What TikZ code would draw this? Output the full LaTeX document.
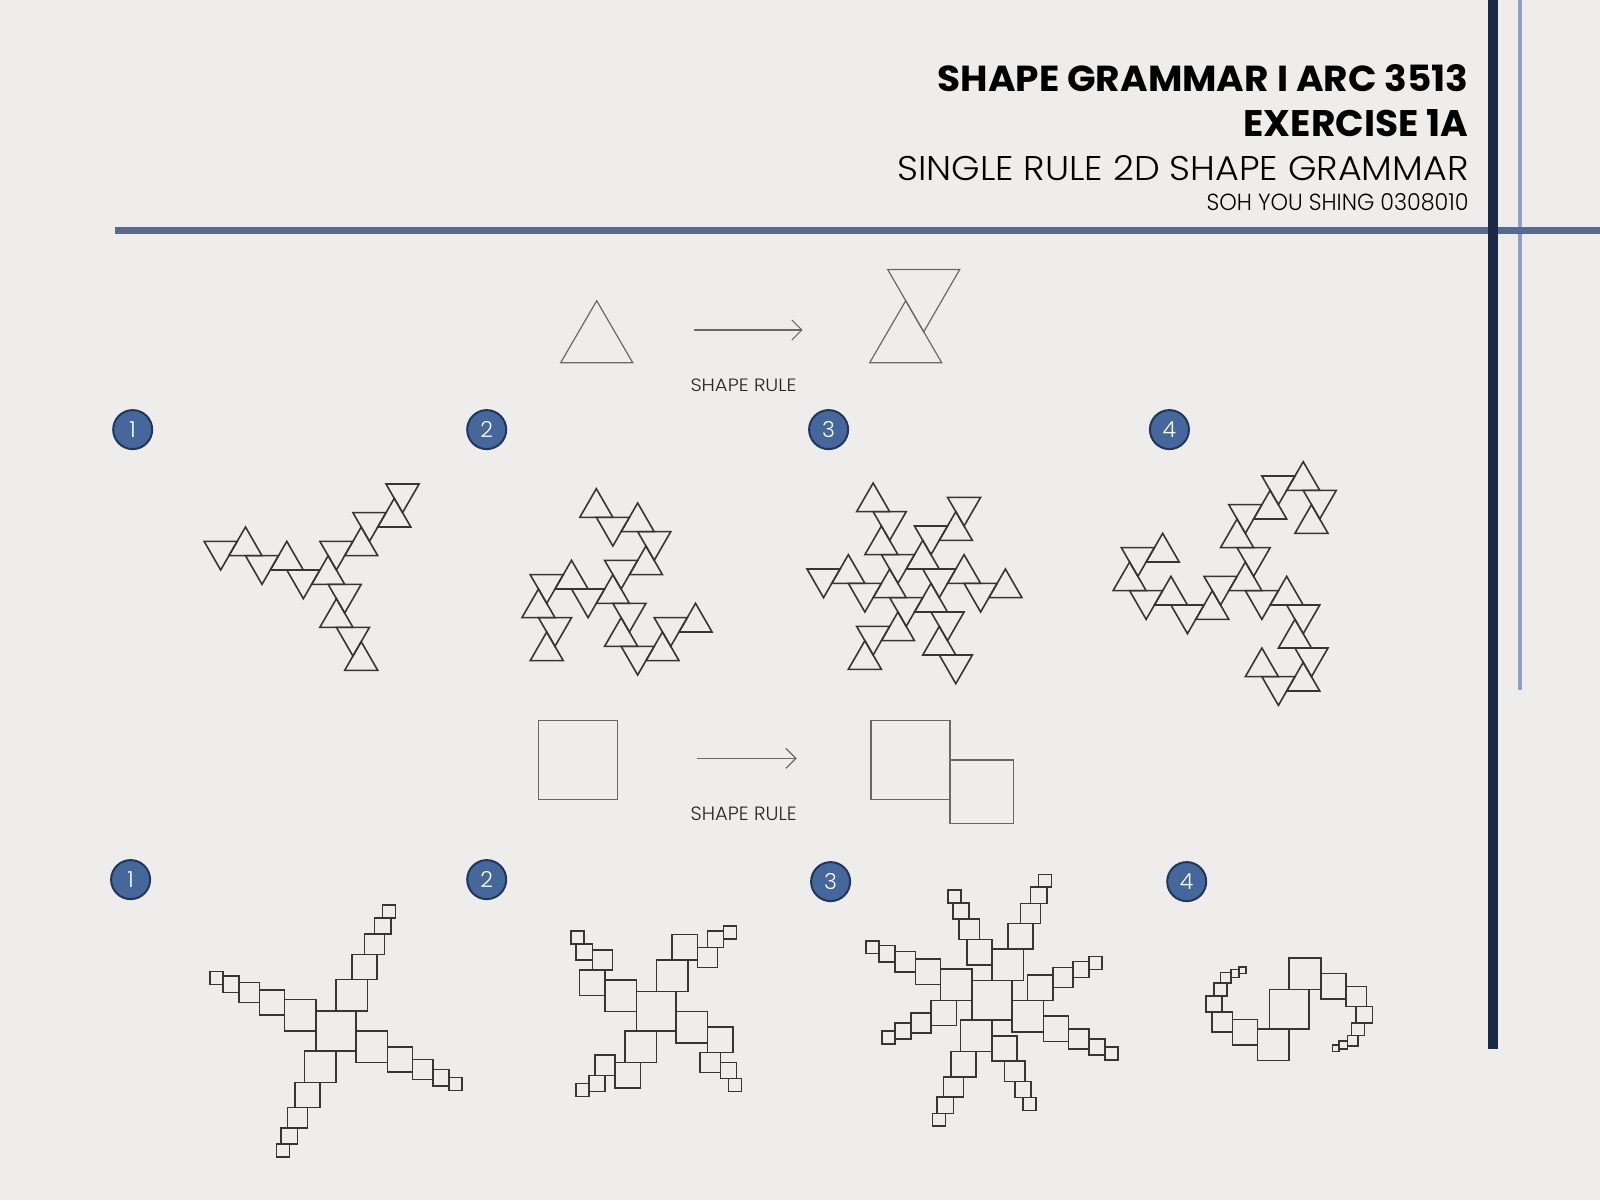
\documentclass[tikz,border=0pt]{standalone}
\usepackage{fontspec}
\setmainfont{Poppins}
\newfontfamily\poplight{Poppins Light}
\usetikzlibrary{arrows.meta}
\definecolor{bg}{HTML}{EEEDEB}
\definecolor{shapeline}{HTML}{3A3535}
\definecolor{ruleline}{HTML}{6E6764}
\definecolor{barblue}{HTML}{566B8F}
\definecolor{darknavy}{HTML}{1B2B47}
\definecolor{lightblue}{HTML}{8FA0C0}
\definecolor{badgefill}{HTML}{46679B}
\definecolor{badgering}{HTML}{22365A}
\tikzset{
  shp/.style={draw=shapeline, line width=0.8pt},
  ruleshp/.style={draw=ruleline, line width=0.6pt},
  rulearrow/.style={draw=ruleline, line width=0.6pt, -{Straight Barb[length=5pt,width=10pt]}},
  badge/.style={circle, fill=badgefill, draw=badgering, line width=1pt, minimum size=19.5pt, inner sep=0pt, text=white, font=\poplight\fontsize{11}{11}\selectfont},
  titletext/.style={anchor=base east, inner sep=0pt, text=black},
  rulelabel/.style={anchor=base, inner sep=0pt, text=black!85},
}
\newcommand{\upTris}[1]{\foreach \i/\j in {#1} {\draw[shp] (\i-2,\j) -- (\i+2,\j) -- (\i,\j-2) -- cycle;}}
\newcommand{\dnTris}[1]{\foreach \i/\j in {#1} {\draw[shp] (\i-2,\j) -- (\i+2,\j) -- (\i,\j+2) -- cycle;}}
\newcommand{\sqbox}[4]{\draw[shp] (#1,#3) rectangle (#2,#4);}
\newcommand{\armOne}{%
  \sqbox{0.5}{1.3}{0}{0.8}
  \sqbox{1.3}{1.94}{0.4}{1.04}
  \sqbox{1.94}{2.452}{0.72}{1.232}
  \sqbox{2.452}{2.8616}{0.976}{1.3856}
  \sqbox{2.8616}{3.18928}{1.1808}{1.50848}}
\newcommand{\armTwo}{%
  \sqbox{0.5}{1.3}{0}{0.8}
  \sqbox{1.3}{1.94}{0.4}{1.04}
  \sqbox{1.108}{1.62}{1.04}{1.552}
  \sqbox{1.62}{2.0296}{1.296}{1.7056}
  \sqbox{1.8248}{2.15248}{1.7056}{2.03328}}
\newcommand{\armExtra}{%
  \sqbox{0.9}{1.54}{-0.64}{0}
  \sqbox{1.54}{2.052}{-0.832}{-0.32}
  \sqbox{2.052}{2.4616}{-0.9856}{-0.576}
  \sqbox{2.4616}{2.78928}{-1.10848}{-0.7808}}
\newcommand{\armFour}{%
  \sqbox{0}{0.8}{-1.3}{-0.5}
  \sqbox{0.8}{1.44}{-0.9}{-0.26}
  \sqbox{1.44}{1.952}{-0.58}{-0.068}
  \sqbox{1.696}{2.1056}{-0.068}{0.3416}
  \sqbox{1.57312}{1.9008}{0.3416}{0.66928}
  \sqbox{1.47482}{1.73696}{0.66928}{0.93142}
  \sqbox{1.2651}{1.47482}{0.80035}{1.01007}
  \sqbox{1.09733}{1.2651}{0.90521}{1.07298}}
\begin{document}
\begin{tikzpicture}[x=0.5pt, y=-0.5pt]
\fill[bg] (0,0) rectangle (1600,1200);
\useasboundingbox (0,0) rectangle (1600,1200);

% frame lines
\draw[lightblue, line width=2.15pt] (1520,0) -- (1520,690);
\draw[barblue, line width=3.85pt] (115,230.5) -- (1600,230.5);
\draw[darknavy, line width=5pt] (1493.3,0) -- (1493.3,1049);

% titles
\node[titletext] (t1) at (1469,91) {\resizebox{265.5pt}{13.5pt}{\bfseries SHAPE GRAMMAR I ARC 3513}};
\node[titletext] (t2) at (1469,136) {\resizebox{112.5pt}{13.5pt}{\bfseries EXERCISE 1A}};
\node[titletext] (t3) at (1469,180) {\resizebox{285.5pt}{12.5pt}{\poplight SINGLE RULE 2D SHAPE GRAMMAR}};
\node[titletext] (t4) at (1469,210) {\resizebox{131pt}{8.5pt}{\poplight SOH YOU SHING 0308010}};

% triangle rule
\draw[ruleshp] (560.7,362.7) -- (632.7,362.7) -- (596.7,300.7) -- cycle;
\draw[ruleshp] (869.7,362.7) -- (941.7,362.7) -- (905.7,300.7) -- cycle;
\draw[ruleshp] (887.7,269.5) -- (959.7,269.5) -- (923.7,331.9) -- cycle;
\coordinate (ra1) at (694,330);
\coordinate (rb1) at (802.7,330);
\draw[rulearrow] (ra1) -- (rb1);
\node[rulelabel] (sr1) at (743.5,391.7) {\resizebox{53pt}{6.3pt}{\poplight SHAPE RULE}};

% badges row 1
\node[badge] (b11) at (132.7,429.6) {1};
\node[badge] (b12) at (486.7,429.6) {2};
\node[badge] (b13) at (828.6,429.6) {3};
\node[badge] (b14) at (1169.4,429.6) {4};

% triangle iterations
\begin{scope}[shift={(220.67,555.67)}, x=4.1333pt, y=-7.1667pt]
  \upTris{3/0, 8/1, 13/2, 17/0, 21/-2, 14/5, 17/8}
  \dnTris{0/-1, 5/0, 10/1, 15/2, 14/-1, 18/-3, 22/-5, 16/5}
\end{scope}
\begin{scope}[shift={(596.33,517.33)}, x=4.1333pt, y=-7.1667pt]
  \upTris{0/0, 5/1, 6/4, 2/6, -3/5, -7/7, -6/10, 3/9, 8/10, 12/8}
  \dnTris{2/0, 7/1, 3/3, -1/5, -6/4, -5/7, 4/6, 5/9, 9/7}
\end{scope}
\begin{scope}[shift={(889.67,583.33)}, x=4.1333pt, y=-7.1667pt]
  \upTris{-2/-5, 8/-3, -1/-2, 4/-1, -5/0, 9/0, 0/1, 14/1, 5/2, 1/4, 6/5, -3/6}
  \dnTris{9/-6, 0/-5, 5/-4, 1/-2, -8/-1, 6/-1, -3/0, 11/0, 2/1, 7/2, -2/3, 8/5}
\end{scope}
\begin{scope}[shift={(1245.33,590.67)}, x=4.1333pt, y=-7.1667pt]
  \upTris{7/-7, 3/-5, 8/-4, -1/-3, 0/0, -4/2, -9/1, -14/0, -10/-2, 5/1, 6/4, 7/7, 2/6}
  \dnTris{4/-8, 9/-7, 0/-6, 1/-3, -3/-1, -7/1, -12/0, -13/-3, 2/0, 7/1, 8/4, 4/6}
\end{scope}

% square rule
\draw[ruleshp] (538.3,720.7) rectangle (617.7,799.3);
\draw[ruleshp] (871,720.7) rectangle (950,799.3);
\draw[ruleshp] (950,760) rectangle (1013.3,823.3);
\coordinate (ra2) at (697.3,758.3);
\coordinate (rb2) at (796.7,758.3);
\draw[rulearrow] (ra2) -- (rb2);
\node[rulelabel] (sr2) at (743.7,820.7) {\resizebox{53pt}{6.8pt}{\poplight SHAPE RULE}};

% badges row 2
\node[badge] (b21) at (130.6,879.6) {1};
\node[badge] (b22) at (486.7,879.6) {2};
\node[badge] (b23) at (830.6,881.6) {3};
\node[badge] (b24) at (1186.7,881.6) {4};

% square iterations
\begin{scope}[shift={(336,1031)}, x=19.75pt, y=-19.75pt]
  \sqbox{-0.5}{0.5}{-0.5}{0.5}
  \foreach \r in {0,90,180,270} {\begin{scope}[rotate=\r]\armOne\end{scope}}
\end{scope}
\begin{scope}[shift={(656.3,1011.3)}, x=19.75pt, y=-19.75pt]
  \sqbox{-0.5}{0.5}{-0.5}{0.5}
  \foreach \r in {0,90,180,270} {\begin{scope}[rotate=\r]\armTwo\end{scope}}
\end{scope}
\begin{scope}[shift={(992,1000.3)}, x=19.75pt, y=-19.75pt]
  \sqbox{-0.5}{0.5}{-0.5}{0.5}
  \foreach \r in {0,90,180,270} {\begin{scope}[rotate=\r]\armOne\armExtra\end{scope}}
\end{scope}
\begin{scope}[shift={(1289.2,1009.2)}, x=19.75pt, y=-19.75pt]
  \sqbox{-0.5}{0.5}{-0.5}{0.5}
  \foreach \r in {0,180} {\begin{scope}[rotate=\r]\armFour\end{scope}}
\end{scope}
\end{tikzpicture}
\end{document}
